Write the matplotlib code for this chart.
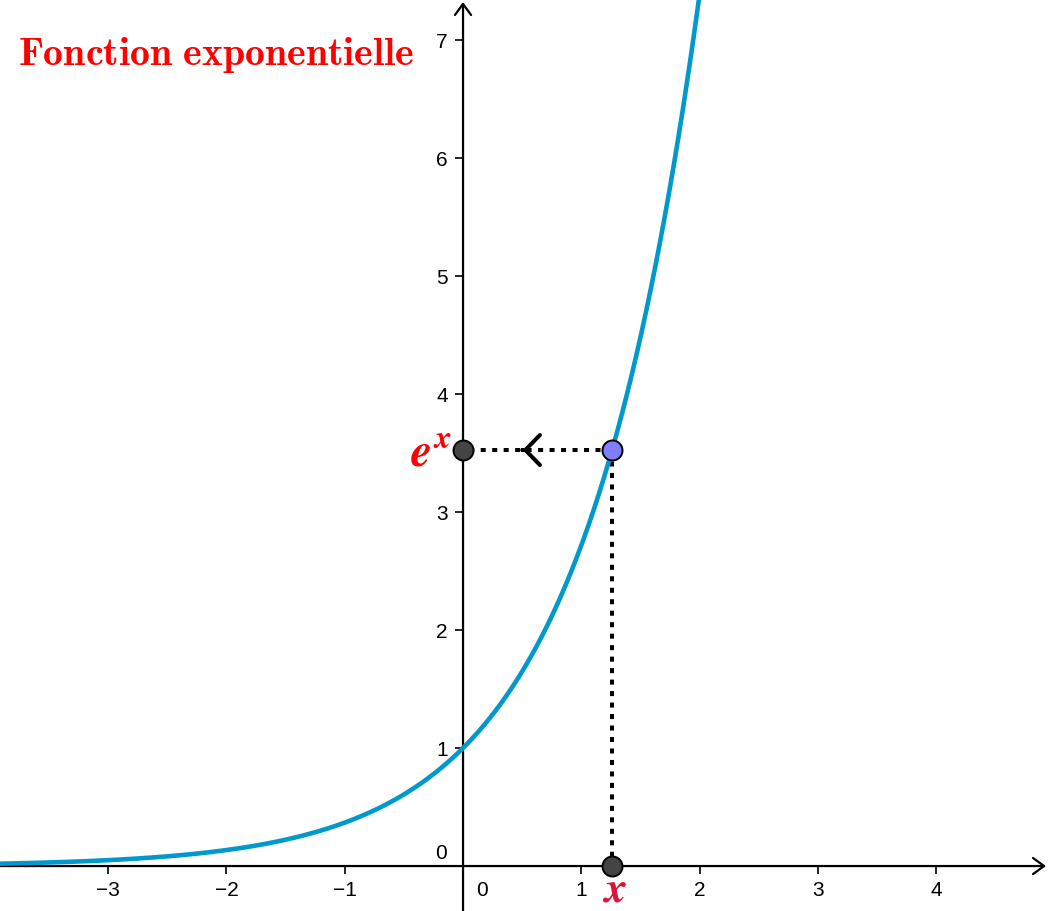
import numpy as np
import matplotlib
matplotlib.use('Agg')
import matplotlib.pyplot as plt

# ---- data ----
title = "Fonction exponentielle"
x_ticks = [-3, -2, -1, 1, 2, 3, 4]
y_ticks = [1, 2, 3, 4, 5, 6, 7]
x_point = 1.26                     # abscissa of the highlighted point
curve_domain = [-3.914, 2.0]       # drawn part of y = e^x

x_min, x_max = -3.914, 4.945
y_min, y_max = -0.381, 7.339

plt.rcParams['font.family'] = ['Liberation Sans', 'DejaVu Sans']
plt.rcParams['mathtext.it'] = 'STIXGeneral:italic:bold'
plt.rcParams['mathtext.rm'] = 'STIXGeneral:bold'
plt.rcParams['mathtext.bf'] = 'STIXGeneral:bold'

fig = plt.figure(figsize=(10.48, 9.11), dpi=100)
ax = fig.add_axes([0, 0, 1, 1])
ax.set_xlim(x_min, x_max)
ax.set_ylim(y_min, y_max)

for s in ax.spines.values():
    s.set_visible(False)
ax.spines['left'].set_position(('data', 0))
ax.spines['bottom'].set_position(('data', 0))
ax.xaxis.set_ticks_position('bottom')
ax.yaxis.set_ticks_position('left')
ax.set_xticks(x_ticks)
ax.set_yticks(y_ticks)
ax.set_xticklabels([str(v).replace('-', '\u2212') for v in x_ticks])
ax.set_yticklabels([str(v) for v in y_ticks])
ax.tick_params(axis='both', direction='out', length=6, width=1.2,
               labelsize=15, color='black', labelcolor='black', pad=5)

# axes with open arrowheads
px = (x_max - x_min) / 1048.0
py = (y_max - y_min) / 911.0
arrow_kw = dict(arrowstyle='->,head_length=8,head_width=5.8', mutation_scale=1,
                lw=1.6, color='black', shrinkA=0, shrinkB=0)
ax.annotate('', xy=(x_max - 2 * px, 0), xytext=(x_min, 0),
            arrowprops=arrow_kw, annotation_clip=False)
ax.annotate('', xy=(0, y_max - 2 * py), xytext=(0, y_min),
            arrowprops=arrow_kw, annotation_clip=False)

# zero labels
ax.annotate('0', xy=(0, 0), xytext=(14, -11), textcoords='offset points',
            ha='center', va='top', fontsize=15)
ax.annotate('0', xy=(0, 0), xytext=(-16, 9), textcoords='offset points',
            ha='center', va='center', fontsize=15)

# exponential curve
xs = np.linspace(curve_domain[0], curve_domain[1], 600)
ax.plot(xs, np.exp(xs), color='#0099CC', lw=3.3, zorder=3, solid_capstyle='butt')

y_point = np.exp(x_point)

# dotted projections
dot_ls = (0, (1.25, 1.6))
ax.plot([x_point, 0], [y_point, y_point], color='black', lw=2.9, ls=dot_ls, zorder=2)
ax.plot([x_point, x_point], [y_point, 0], color='black', lw=2.9, ls=dot_ls, zorder=2)

# chevron arrow on horizontal projection
tip = x_point / 2 - 15 * px
ax.annotate('', xy=(tip, y_point), xytext=(tip + 0.001, y_point),
            arrowprops=dict(arrowstyle='->,head_length=10.5,head_width=10.8',
                            mutation_scale=1, lw=2.9, color='black',
                            shrinkA=0, shrinkB=0))

# points
ax.plot([0], [y_point], 'o', ms=14.4, mfc='#444444', mec='black', mew=1.4, zorder=5)
ax.plot([x_point], [0], 'o', ms=14.4, mfc='#444444', mec='black', mew=1.4, zorder=5)
ax.plot([x_point], [y_point], 'o', ms=14.4, mfc='#7F7FFF', mec='black', mew=1.4, zorder=6)

# labels
ax.annotate(r'$e^x$', xy=(0, y_point), xytext=(-8, -11),
            textcoords='offset points', ha='right', va='baseline',
            fontsize=34, color='#FF0000', math_fontfamily='custom')
ax.annotate(r'$x$', xy=(x_point, 0), xytext=(2, -32.3),
            textcoords='offset points', ha='center', va='bottom',
            fontsize=32, color='#DC143C', math_fontfamily='custom')

fig.text(18 / 1048, 1 - 65 / 911, r'$\mathbf{' + title.replace(' ', r'\ ') + '}$',
         ha='left', va='baseline', fontsize=28.7, color='#FF0000', math_fontfamily='cm')

fig.savefig('out.png', dpi=100)
